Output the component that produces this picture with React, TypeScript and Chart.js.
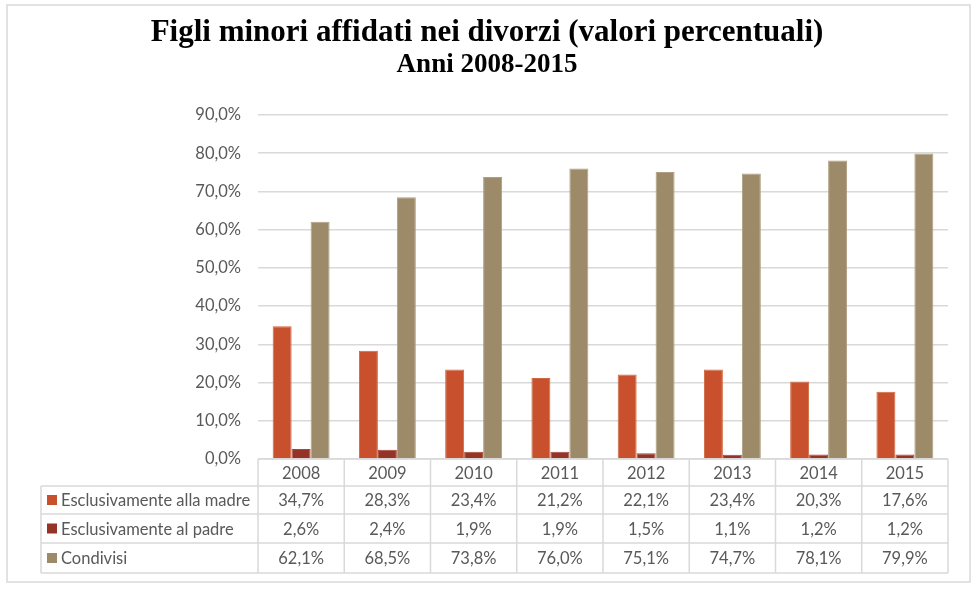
import React, { useEffect, useRef } from "react";
import { Chart, registerables } from "chart.js";

Chart.register(...registerables);

const years = ["2008", "2009", "2010", "2011", "2012", "2013", "2014", "2015"];
const seriesNames = ["Esclusivamente alla madre", "Esclusivamente al padre", "Condivisi"];
const madre = [34.7, 28.3, 23.4, 21.2, 22.1, 23.4, 20.3, 17.6];
const padre = [2.6, 2.4, 1.9, 1.9, 1.5, 1.1, 1.2, 1.2];
const condivisi = [62.1, 68.5, 73.8, 76.0, 75.1, 74.7, 78.1, 79.9];
const colors = ["#C8502C", "#963327", "#9C8A69"];
const borders = ["#D0683F", "#A5483A", "#AE9F80"];
const titleText = "Figli minori affidati nei divorzi (valori percentuali)";
const subtitleText = "Anni 2008-2015";

const fmt = (v: number) => v.toFixed(1).replace(".", ",") + "%";
const LABEL_FONT = "Lato, 'Noto Sans', sans-serif";
const LABEL_SIZE = 16.5;
const TEXT_COLOR = "#595959";
const LINE_COLOR = "#D9D9D9";

const tablePlugin = {
  id: "dataTable",
  beforeDraw(chart: any) {
    const ctx = chart.ctx;
    ctx.save();
    ctx.fillStyle = "#ffffff";
    ctx.fillRect(0, 0, chart.width, chart.height);
    ctx.strokeStyle = LINE_COLOR;
    ctx.lineWidth = 1.5;
    ctx.strokeRect(7, 5, 963, 577);
    ctx.restore();
  },
  afterDraw(chart: any) {
    const ctx = chart.ctx;
    const area = chart.chartArea;
    const n = years.length;
    const colW = (area.right - area.left) / n;
    const labelLeft = 41;
    const rowH = [27, 28, 29, 30];
    const top = area.bottom;
    const ys = [top];
    for (const h of rowH) ys.push(ys[ys.length - 1] + h);
    const bottom = ys[ys.length - 1];
    const datasets = chart.data.datasets;

    ctx.save();
    ctx.strokeStyle = LINE_COLOR;
    ctx.lineWidth = 1.5;
    ctx.beginPath();
    ctx.moveTo(area.left, ys[0]);
    ctx.lineTo(area.right, ys[0]);
    for (let r = 1; r < ys.length; r++) {
      ctx.moveTo(labelLeft, ys[r]);
      ctx.lineTo(area.right, ys[r]);
    }
    for (let c = 0; c <= n; c++) {
      const x = area.left + c * colW;
      ctx.moveTo(x, ys[0]);
      ctx.lineTo(x, bottom);
    }
    ctx.moveTo(labelLeft, ys[1]);
    ctx.lineTo(labelLeft, bottom);
    ctx.stroke();

    ctx.font = LABEL_SIZE + "px " + LABEL_FONT;
    ctx.fillStyle = TEXT_COLOR;
    ctx.textAlign = "center";
    ctx.textBaseline = "middle";
    const xScale = chart.scales.x;
    for (let c = 0; c < n; c++) {
      const cx = xScale.getPixelForValue(c);
      ctx.fillText(chart.data.labels[c], cx, (ys[0] + ys[1]) / 2 + 1);
      for (let d = 0; d < datasets.length; d++) {
        ctx.fillText(fmt(datasets[d].data[c]), cx, (ys[d + 1] + ys[d + 2]) / 2 + 1);
      }
    }
    ctx.textAlign = "left";
    for (let d = 0; d < datasets.length; d++) {
      const cy = (ys[d + 1] + ys[d + 2]) / 2;
      ctx.fillStyle = datasets[d].backgroundColor;
      ctx.fillRect(47, cy - 5, 10, 10);
      ctx.fillStyle = TEXT_COLOR;
      ctx.fillText(datasets[d].label, 61, cy + 1);
    }
    ctx.restore();
  },
};

export default function App() {
  const ref = useRef<HTMLCanvasElement | null>(null);

  useEffect(() => {
    document.body.style.margin = "0";
    const canvas = ref.current;
    if (!canvas) return;
    const seriesValues = [madre, padre, condivisi];
    const chart = new Chart(canvas, {
      type: "bar",
      data: {
        labels: years,
        datasets: seriesNames.map((name, i) => ({
          label: name,
          data: seriesValues[i],
          backgroundColor: colors[i],
          borderColor: borders[i],
          borderWidth: 1,
          categoryPercentage: 0.66,
          barPercentage: 1,
        })),
      },
      options: {
        responsive: false,
        animation: false,
        layout: { padding: { left: 26, right: 32, top: 0, bottom: 123 } },
        plugins: {
          legend: { display: false },
          tooltip: { enabled: false },
          title: {
            display: true,
            text: titleText,
            color: "#000000",
            font: { family: "'Liberation Serif', 'Times New Roman', serif", size: 31, weight: "bold", lineHeight: 1.2 },
            padding: { top: 14, bottom: 0 },
          },
          subtitle: {
            display: true,
            text: subtitleText,
            color: "#000000",
            font: { family: "'Liberation Serif', 'Times New Roman', serif", size: 27, weight: "bold", lineHeight: 1.0 },
            padding: { top: 0, bottom: 36.8 },
          },
        },
        scales: {
          x: {
            grid: { display: false },
            border: { display: false },
            ticks: { display: false },
          },
          y: {
            min: 0,
            max: 90,
            ticks: {
              stepSize: 10,
              color: TEXT_COLOR,
              font: { family: LABEL_FONT, size: LABEL_SIZE },
              padding: 17,
              callback: (v: any) => fmt(Number(v)),
            },
            grid: { color: LINE_COLOR, lineWidth: 1.5, drawTicks: false },
            border: { display: false },
            afterFit: (scale: any) => {
              scale.width = 232;
            },
          },
        },
      },
      plugins: [tablePlugin],
    });
    return () => chart.destroy();
  }, []);

  return (
    <div style={{ width: 980, height: 590 }}>
      <canvas ref={ref} width={980} height={590} />
    </div>
  );
}
